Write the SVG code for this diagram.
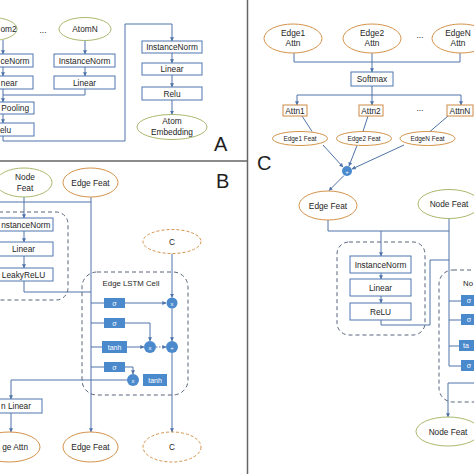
<svg xmlns="http://www.w3.org/2000/svg" width="474" height="474" viewBox="0 0 474 474">
<defs>
<marker id="ar" viewBox="0 0 6 6" refX="5.5" refY="3" markerWidth="4" markerHeight="4" orient="auto" markerUnits="userSpaceOnUse"><path d="M0,0 L6,3 L0,6 Z" fill="#4f73a8"/></marker>
<style>
.box{fill:#fff;stroke:#4f77b0;stroke-width:1}
.abox{fill:#fff;stroke:#d08a45;stroke-width:1}
.ln{fill:none;stroke:#4f73a8;stroke-width:1}
.eo{fill:#fff;stroke:#d4934a;stroke-width:1}
.eg{fill:#fff;stroke:#a9b96e;stroke-width:1}
.ed{fill:#fff;stroke:#d4934a;stroke-width:1;stroke-dasharray:3 2}
.dash{fill:none;stroke:#56657c;stroke-width:1;stroke-dasharray:4 3}
.gate{fill:#4a89cc}
.div{stroke:#666;stroke-width:1.5;fill:none}
text{font-family:"Liberation Sans",Arial,sans-serif;font-size:8.3px;fill:#1e1e1e;text-anchor:middle}
.w{fill:#fff;font-size:7px}
.sm{font-size:6.4px}
.big{font-size:20px;text-anchor:start}
.s{text-anchor:start}
.e{text-anchor:end}
</style>
</defs>
<rect width="474" height="474" fill="#fff"/>
<path class="div" d="M247.5 0 V474 M0 161 H247.5"/>

<g id="connectors">
<!-- A -->
<path class="ln" marker-end="url(#ar)" d="M3 40 V54"/>
<path class="ln" marker-end="url(#ar)" d="M3 67 V76"/>
<path class="ln" marker-end="url(#ar)" d="M3 89 V102"/>
<path class="ln" marker-end="url(#ar)" d="M3 114 V123"/>
<path class="ln" marker-end="url(#ar)" d="M85 40.5 V54"/>
<path class="ln" marker-end="url(#ar)" d="M85 67 V76"/>
<path class="ln" d="M85 89 V95 H3"/>
<path class="ln" marker-end="url(#ar)" d="M3 136 V141 H125 V24 H172 V41"/>
<path class="ln" marker-end="url(#ar)" d="M172 53 V63"/>
<path class="ln" marker-end="url(#ar)" d="M172 75 V87"/>
<path class="ln" marker-end="url(#ar)" d="M172 100 V114.5"/>
<!-- B -->
<path class="ln" marker-end="url(#ar)" d="M24 197 V218"/>
<path class="ln" marker-end="url(#ar)" d="M24 231 V242"/>
<path class="ln" marker-end="url(#ar)" d="M24 256 V268"/>
<path class="ln" d="M24 281 V292 H91"/>
<path class="ln" d="M0 202 H91"/>
<path class="ln" marker-end="url(#ar)" d="M91 197 V432"/>
<path class="ln" d="M91 303 H104 M91 323 H104 M91 347 H102 M91 367 H104"/>
<path class="ln" marker-end="url(#ar)" d="M125 303 H166"/>
<path class="ln" marker-end="url(#ar)" d="M125 323 H150 V341"/>
<path class="ln" marker-end="url(#ar)" d="M127 347 H144"/>
<path class="ln" marker-end="url(#ar)" stroke-dasharray="1.5 1.5" d="M156 347 H166"/>
<path class="ln" marker-end="url(#ar)" d="M125 367 H133 V374"/>
<path class="ln" marker-end="url(#ar)" d="M127 380 H11 V399"/>
<path class="ln" marker-end="url(#ar)" d="M11 413 V432"/>
<path class="ln" marker-end="url(#ar)" d="M172 253.5 V297.5"/>
<path class="ln" marker-end="url(#ar)" d="M172 308.5 V341"/>
<path class="ln" marker-end="url(#ar)" d="M172 353 V432"/>
<!-- C -->
<path class="ln" d="M294 53 V62 H460 M460 53 V62"/>
<path class="ln" marker-end="url(#ar)" d="M372 53 V72"/>
<path class="ln" d="M372 86 V95 M297 95 H461"/>
<path class="ln" marker-end="url(#ar)" d="M297 95 V105"/>
<path class="ln" marker-end="url(#ar)" d="M372 95 V105"/>
<path class="ln" marker-end="url(#ar)" d="M461 95 V105"/>
<path class="ln" d="M302 116 L312 131.5 M368 116 L363 131.5 M448 116 L430 131.5"/>
<path class="ln" marker-end="url(#ar)" d="M323 145 L343 167"/>
<path class="ln" marker-end="url(#ar)" d="M357 145.5 L349 166"/>
<path class="ln" marker-end="url(#ar)" d="M404 145 L352 169"/>
<path class="ln" marker-end="url(#ar)" d="M344 175.5 L329 190.5"/>
<path class="ln" d="M328 220 V231 H449"/>
<path class="ln" d="M449 218.5 V366"/>
<path class="ln" marker-end="url(#ar)" d="M381 231 V256"/>
<path class="ln" marker-end="url(#ar)" d="M381 273 V279"/>
<path class="ln" marker-end="url(#ar)" d="M381 296 V303"/>
<path class="ln" d="M381 320 V325 H430 V260 H449"/>
<path class="ln" d="M449 301 H461 M449 320 H461 M449 346 H459 M449 366 H461"/>
<path class="ln" marker-end="url(#ar)" d="M474 383 H448 V417"/>
</g>

<!-- Panel A -->
<g id="atom2"><ellipse class="eg" cx="-8" cy="29" rx="25" ry="11.5"/><text class="s" x="0.5" y="32">om2</text></g>
<text x="43" y="33">...</text>
<g id="atomN"><ellipse class="eg" cx="85" cy="29" rx="26" ry="11.5"/><text x="85" y="32">AtomN</text></g>
<g id="a-in1"><rect class="box" x="-28" y="54" width="61" height="13"/><text class="e" x="29.5" y="63.5">ceNorm</text></g>
<g id="a-lin1"><rect class="box" x="-28" y="76" width="61" height="13"/><text class="s" x="0.8" y="85.5">near</text></g>
<g id="a-pool"><rect class="box" x="-28" y="102" width="62" height="12"/><text class="e" x="29" y="111">Pooling</text></g>
<g id="a-relu1"><rect class="box" x="-28" y="123" width="62" height="13"/><text class="e" x="11" y="132.5">elu</text></g>
<g id="a-inN"><rect class="box" x="54" y="54" width="61" height="13"/><text x="84.5" y="63.5">InstanceNorm</text></g>
<g id="a-linN"><rect class="box" x="54" y="76" width="61" height="13"/><text x="84.5" y="85.5">Linear</text></g>
<g id="a-in2"><rect class="box" x="142" y="41" width="60" height="12"/><text x="172" y="50">InstanceNorm</text></g>
<g id="a-lin2"><rect class="box" x="142" y="63" width="60" height="12"/><text x="172" y="72">Linear</text></g>
<g id="a-relu2"><rect class="box" x="142" y="87" width="60" height="13"/><text x="172" y="96.5">Relu</text></g>
<g id="atomEmb"><ellipse class="eg" cx="172" cy="127" rx="35" ry="12.5"/><text x="172" y="124">Atom</text><text x="172" y="135">Embedding</text></g>
<text class="big" x="214" y="151">A</text>

<!-- Panel B -->
<g id="b-nodefeat"><ellipse class="eg" cx="24" cy="182.5" rx="28" ry="14.5"/><text x="25" y="180">Node</text><text x="25" y="191">Feat</text></g>
<g id="b-edgefeat"><ellipse class="eo" cx="90.5" cy="182.5" rx="27.5" ry="14.5"/><text x="90.5" y="185.5">Edge Feat</text></g>
<text class="big" x="216" y="188">B</text>
<rect class="dash" x="-20" y="212" width="88" height="88" rx="12"/>
<g id="b-in"><rect class="box" x="-6" y="218" width="59" height="13"/><text class="e" x="50.5" y="227.5">nstanceNorm</text></g>
<g id="b-lin"><rect class="box" x="-6" y="242" width="59" height="14"/><text x="23.5" y="252">Linear</text></g>
<g id="b-leaky"><rect class="box" x="-6" y="268" width="59" height="13"/><text x="23.5" y="277.5">LeakyReLU</text></g>
<g id="b-ctop"><ellipse class="ed" cx="172" cy="241.5" rx="29" ry="12"/><text x="172" y="244.5">C</text></g>
<g id="b-lstm">
<rect class="dash" x="82" y="272" width="106" height="123" rx="15"/>
<text x="131" y="286" style="font-size:7.8px">Edge LSTM Cell</text>
<rect class="gate" x="104" y="298" width="21" height="10"/><text class="w" x="114.5" y="305.5">σ</text>
<rect class="gate" x="104" y="318" width="21" height="10"/><text class="w" x="114.5" y="325.5">σ</text>
<rect class="gate" x="102" y="341" width="25" height="12"/><text class="w" x="114.5" y="349.5">tanh</text>
<rect class="gate" x="104" y="362" width="21" height="10"/><text class="w" x="114.5" y="369.5">σ</text>
<rect class="gate" x="143" y="374" width="24" height="12"/><text class="w" x="155" y="382.5">tanh</text>
<circle class="gate" cx="172" cy="303" r="5.5"/><text class="w" x="172" y="305.5" style="font-size:6px">x</text>
<circle class="gate" cx="150" cy="347" r="6"/><text class="w" x="150" y="349.5" style="font-size:6px">x</text>
<circle class="gate" cx="172" cy="347" r="6"/><text class="w" x="172" y="349.5" style="font-size:6px">+</text>
<circle class="gate" cx="133" cy="380" r="6"/><text class="w" x="133" y="382.5" style="font-size:6px">x</text>
</g>
<g id="b-attnlin"><rect class="box" x="-20" y="399" width="62" height="14"/><text class="e" x="31" y="409">n Linear</text></g>
<g id="b-edgeattn"><ellipse class="eo" cx="9" cy="447" rx="31" ry="15"/><text class="e" x="28" y="450">ge Attn</text></g>
<g id="b-edgefeat2"><ellipse class="eo" cx="90.5" cy="447" rx="27.5" ry="15"/><text x="90.5" y="450">Edge Feat</text></g>
<g id="b-cbot"><ellipse class="ed" cx="172" cy="447" rx="29" ry="15"/><text x="172" y="450">C</text></g>

<!-- Panel C -->
<text class="big" x="257" y="170">C</text>
<g id="c-e1a"><ellipse class="eo" cx="293" cy="38.5" rx="29" ry="14.5"/><text x="293" y="36">Edge1</text><text x="293" y="46">Attn</text></g>
<g id="c-e2a"><ellipse class="eo" cx="372" cy="38.5" rx="29" ry="14.5"/><text x="372" y="36">Edge2</text><text x="372" y="46">Attn</text></g>
<text x="420" y="38">...</text>
<g id="c-eNa"><ellipse class="eo" cx="461" cy="38.5" rx="29" ry="14.5"/><text x="458" y="36">EdgeN</text><text x="458" y="46">Attn</text></g>
<g id="c-softmax"><rect class="box" x="351" y="72" width="42" height="14"/><text x="372" y="82">Softmax</text></g>
<g id="c-attn1"><rect class="abox" x="283" y="105" width="24" height="11"/><text x="295" y="113.5">Attn1</text></g>
<g id="c-attn2"><rect class="abox" x="359" y="105" width="24" height="11"/><text x="371" y="113.5">Attn2</text></g>
<text x="420" y="111">...</text>
<g id="c-attnN"><rect class="abox" x="447" y="105" width="26" height="11"/><text x="460" y="113.5">AttnN</text></g>
<g id="c-e1f"><ellipse class="eo" cx="300" cy="138.5" rx="27.5" ry="7"/><text class="sm" x="300" y="141">Edge1 Feat</text></g>
<g id="c-e2f"><ellipse class="eo" cx="364" cy="138.5" rx="27.5" ry="7"/><text class="sm" x="364" y="141">Edge2 Feat</text></g>
<g id="c-eNf"><ellipse class="eo" cx="427.5" cy="138.5" rx="27.5" ry="7"/><text class="sm" x="427.5" y="141">EdgeN Feat</text></g>
<g id="c-plus"><circle class="gate" cx="347" cy="171" r="5"/><text class="w" x="347" y="173.5" style="font-size:6px">+</text></g>
<g id="c-edgefeat"><ellipse class="eo" cx="328" cy="205.5" rx="29" ry="14.5"/><text x="328" y="208.5">Edge Feat</text></g>
<g id="c-nodefeat"><ellipse class="eg" cx="449" cy="204" rx="31" ry="14.5"/><text x="449" y="207">Node Feat</text></g>
<rect class="dash" x="337" y="242" width="88" height="93" rx="12"/>
<g id="c-in"><rect class="box" x="350" y="256" width="61" height="17"/><text x="380.5" y="267.5">InstanceNorm</text></g>
<g id="c-lin"><rect class="box" x="350" y="279" width="61" height="17"/><text x="380.5" y="290.5">Linear</text></g>
<g id="c-relu"><rect class="box" x="350" y="303" width="61" height="17"/><text x="380.5" y="314.5">ReLU</text></g>
<g id="c-lstm">
<rect class="dash" x="439" y="270" width="60" height="132" rx="14"/>
<text class="s" x="463" y="286" style="font-size:7.8px">No</text>
<rect class="gate" x="461" y="295" width="21" height="11"/><text class="w" x="469" y="303">σ</text>
<rect class="gate" x="461" y="314" width="21" height="11"/><text class="w" x="469" y="322">σ</text>
<rect class="gate" x="459" y="340" width="25" height="11"/><text class="w s" x="463" y="348">ta</text>
<rect class="gate" x="461" y="360" width="21" height="11"/><text class="w" x="469" y="368">σ</text>
</g>
<g id="c-nodefeat2"><ellipse class="eg" cx="448" cy="431.5" rx="32" ry="14.5"/><text x="448" y="434.5">Node Feat</text></g>
</svg>
